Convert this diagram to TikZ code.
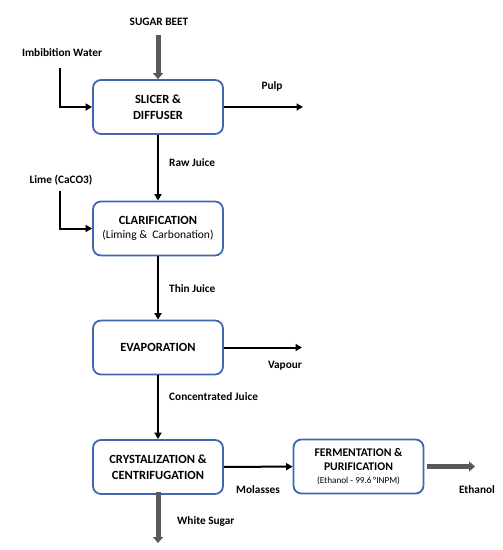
\documentclass[tikz,border=0pt]{standalone}
\usepackage{fontspec}
\setmainfont{Carlito}
\usetikzlibrary{arrows.meta}

\definecolor{boxblue}{HTML}{3F68B0}
\definecolor{flowgray}{HTML}{595959}

\tikzset{bb/.style={draw=boxblue, line width=1.8pt, fill=white, rounded corners=8pt,
        minimum width=130pt, minimum height=54pt, align=center,
        font=\fontsize{12.5}{15.5}\selectfont\bfseries},
    lbl/.style={inner sep=1pt, font=\fontsize{11.3}{13}\selectfont\bfseries},
    flow/.style={line width=2pt, -{Triangle[length=6.5pt,width=7pt]}},
    bigflow/.style={line width=5pt, draw=flowgray, -{Triangle[length=6pt,width=10pt]}}}

\begin{document}
\begin{tikzpicture}[x=1pt, y=-1pt]
    \useasboundingbox (0,0) rectangle (503,550);

    \node[bb] (slicer) at (158,107) {SLICER \&\\DIFFUSER};
    \node[bb] (clarif) at (158,228.5) {CLARIFICATION\\[-1pt]{\mdseries\fontsize{11.5}{14}\selectfont(Liming \&\ \ Carbonation)}};
    \node[bb] (evap) at (158,347.5) {EVAPORATION};
    \node[bb] (cryst) at (158,467) {CRYSTALIZATION \&\\CENTRIFUGATION};
    \node[bb, font=\fontsize{11.7}{14}\selectfont\bfseries] (ferm) at (358.5,466.5) {FERMENTATION \&\\PURIFICATION\\[-1pt]{\mdseries\fontsize{9.2}{11}\selectfont(Ethanol - 99.6\,°INPM)}};

    \node[lbl] (beet) at (159,22) {SUGAR BEET};
    \node[lbl] (water) at (62,53) {Imbibition Water};
    \node[lbl] (pulp) at (272,86) {Pulp};
    \node[lbl, anchor=west] (raw) at (168,163) {Raw Juice};
    \node[lbl] (lime) at (61,180) {Lime (CaCO3)};
    \node[lbl, anchor=west] (thin) at (168,289) {Thin Juice};
    \node[lbl] (vapour) at (285,366) {Vapour};
    \node[lbl, anchor=west] (conc) at (168,397) {Concentrated Juice};
    \node[lbl] (molasses) at (258,490) {Molasses};
    \node[lbl] (ethanol) at (477,490) {Ethanol};
    \node[lbl, anchor=west] (white) at (176,521) {White Sugar};

    \coordinate (beettop) at (158,35);
    \coordinate (watertop) at (60,68);
    \coordinate (limetop) at (60,191);
    \coordinate (pulpend) at (303,107);
    \coordinate (vapourend) at (302,347.5);
    \coordinate (ethanolend) at (475,466.5);
    \coordinate (sugarend) at (158,543);

    \draw[bigflow] (beettop) -- (slicer.north);
    \draw[flow] (watertop) |- (slicer.west);
    \draw[flow] (slicer.east) -- (pulpend);

    \draw[flow] (slicer) -- (clarif);
    \draw[flow] (limetop) |- (clarif.west);

    \draw[flow] (clarif) -- (evap);
    \draw[flow] (evap.east) -- (vapourend);

    \draw[flow] (evap) -- (cryst);
    \draw[flow] (cryst) -- (ferm);

    \draw[bigflow] ([xshift=3pt]ferm.east) -- (ethanolend);
    \draw[bigflow] ([yshift=3pt]cryst.south) -- (sugarend);

\end{tikzpicture}
\end{document}
